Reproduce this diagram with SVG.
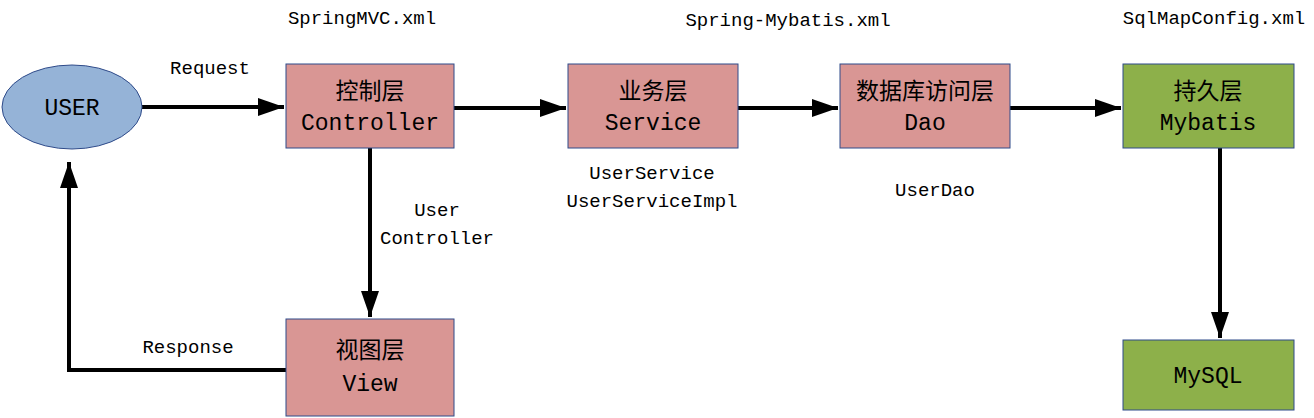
<svg xmlns="http://www.w3.org/2000/svg" width="1314" height="418" viewBox="0 0 1314 418">
<style>
.red{fill:#D99694;stroke:#2F4B8A;stroke-width:1}
.grn{fill:#8DB04A;stroke:#2F4B8A;stroke-width:1}
.t{font-family:"Liberation Mono","Noto Sans CJK SC",monospace;fill:#000;text-anchor:middle}
.b{font-size:23px}
.s{font-size:19px}
.c{stroke:#000;stroke-width:4;fill:none}
</style>
<defs><marker id="a" markerWidth="8" markerHeight="8" refX="7" refY="4" orient="auto" markerUnits="userSpaceOnUse"><path d="M0,0L8,4L0,8z" fill="#000"/></marker>
<marker id="ah" viewBox="0 0 10 10" refX="10" refY="5" markerWidth="26" markerHeight="18" orient="auto" markerUnits="userSpaceOnUse" preserveAspectRatio="none"><path d="M0,0L10,5L0,10z" fill="#000"/></marker></defs>
<g id="connectors">
<path class="c" d="M142,107H284" marker-end="url(#ah)"/>
<path class="c" d="M454,108H566" marker-end="url(#ah)"/>
<path class="c" d="M738,108H838" marker-end="url(#ah)"/>
<path class="c" d="M1010,108H1121" marker-end="url(#ah)"/>
<path class="c" d="M370,148V317" marker-end="url(#ah)"/>
<path class="c" d="M1220,148V338" marker-end="url(#ah)"/>
<path class="c" d="M286,370H69V162" marker-end="url(#ah)"/>
</g>
<g id="user"><ellipse cx="72" cy="107" rx="70" ry="42" fill="#95B3D7" stroke="#2F4B8A"/><text class="t b" x="72" y="115">USER</text></g>
<g id="controller"><rect class="red" x="286" y="64" width="168" height="84"/><text class="t b" x="370" y="99">控制层</text><text class="t b" x="370" y="130">Controller</text></g>
<g id="service"><rect class="red" x="568" y="64" width="170" height="84"/><text class="t b" x="653" y="99">业务层</text><text class="t b" x="653" y="130">Service</text></g>
<g id="dao"><rect class="red" x="840" y="64" width="170" height="84"/><text class="t b" x="925" y="99">数据库访问层</text><text class="t b" x="925" y="130">Dao</text></g>
<g id="mybatis"><rect class="grn" x="1123" y="64" width="171" height="84"/><text class="t b" x="1208" y="99">持久层</text><text class="t b" x="1208" y="130">Mybatis</text></g>
<g id="mysql"><rect class="grn" x="1123" y="340" width="171" height="70"/><text class="t b" x="1208" y="383">MySQL</text></g>
<g id="view"><rect class="red" x="286" y="319" width="168" height="97"/><text class="t b" x="370" y="358">视图层</text><text class="t b" x="370" y="391">View</text></g>
<g id="labels">
<text class="t s" x="362" y="24">SpringMVC.xml</text>
<text class="t s" x="788" y="26">Spring-Mybatis.xml</text>
<text class="t s" x="1214" y="24">SqlMapConfig.xml</text>
<text class="t s" x="210" y="74">Request</text>
<text class="t s" x="652" y="179">UserService</text>
<text class="t s" x="652" y="207">UserServiceImpl</text>
<text class="t s" x="935" y="196">UserDao</text>
<text class="t s" x="437" y="216">User</text>
<text class="t s" x="437" y="244">Controller</text>
<text class="t s" x="188" y="353">Response</text>
</g>
</svg>
